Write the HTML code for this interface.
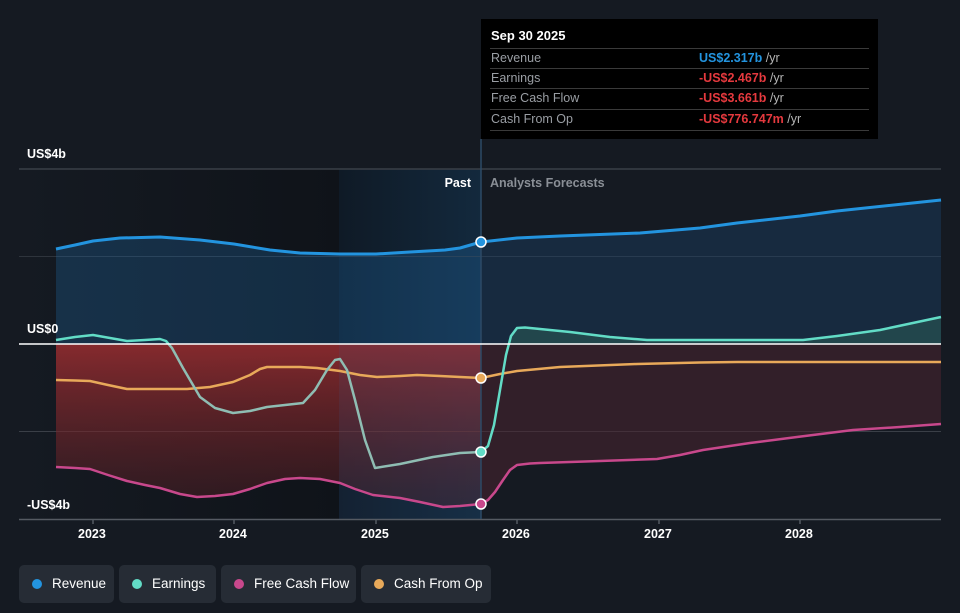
<!DOCTYPE html>
<html><head><meta charset="utf-8"><style>
html,body{margin:0;padding:0;background:#151a22;}
body{width:960px;height:613px;overflow:hidden;position:relative;font-family:"Liberation Sans",sans-serif;}
.tt{position:absolute;left:481px;top:19px;width:397px;height:120px;background:#000;}
.tt .h{position:absolute;left:10px;top:9px;color:#fff;font-weight:bold;font-size:13px;}
.tt .r{position:absolute;left:9px;width:379px;height:20px;border-top:1px solid #3a3a3a;font-size:12.5px;color:#9a9ea4;line-height:19px;}
.tt .r span.l{position:absolute;left:1px;}
.tt .r span.v{position:absolute;left:209px;font-weight:bold;}
.tt .r span.v i{font-style:normal;font-weight:normal;color:#b5b5b5;}
.blue{color:#2394df;} .red{color:#e5393e;}
.lg{position:absolute;top:565px;height:38px;background:#262c35;border-radius:5px;color:#fff;font-size:13.5px;font-weight:normal;line-height:38px;}
.lg b{position:absolute;left:13px;top:14px;width:10px;height:10px;border-radius:50%;}
.lg span{position:absolute;left:33px;}
.ax{position:absolute;color:#fff;font-size:12.5px;font-weight:bold;}
</style></head><body>
<svg width="960" height="613" style="position:absolute;left:0;top:0">
<defs>
<linearGradient id="dk" x1="0" x2="1" y1="0" y2="0"><stop offset="0" stop-color="#151a22"/><stop offset="1" stop-color="#0f1319"/></linearGradient>
<linearGradient id="hl" x1="0" x2="1" y1="0" y2="0"><stop offset="0" stop-color="#0f1a26"/><stop offset="1" stop-color="#13293d"/></linearGradient>
<linearGradient id="rd" x1="0" x2="0" y1="344" y2="510" gradientUnits="userSpaceOnUse"><stop offset="0" stop-color="#9a2d30" stop-opacity="0.85"/><stop offset="1" stop-color="#5a2026" stop-opacity="0.35"/></linearGradient>
<clipPath id="past"><rect x="0" y="0" width="481" height="613"/></clipPath>
<clipPath id="fut"><rect x="481" y="0" width="479" height="613"/></clipPath>
<clipPath id="pastBelow"><rect x="0" y="345" width="481" height="268"/></clipPath>
<clipPath id="notPastBelow"><path d="M0,0 H960 V613 H481 V345 H0 Z"/></clipPath>
</defs>
<rect x="19" y="169" width="320" height="350" fill="url(#dk)"/>
<rect x="339" y="169" width="142" height="350" fill="url(#hl)"/>
<line x1="19" y1="169" x2="941" y2="169" stroke="#3a3f47" stroke-width="1.5"/>
<line x1="19" y1="256.5" x2="941" y2="256.5" stroke="#2e343c" stroke-width="1"/>
<line x1="19" y1="431.5" x2="941" y2="431.5" stroke="#3a3f47" stroke-width="1"/>
<path d="M56,344 L56,249 L75,245 L93,241 L120,238 L160,237 L200,240 L234,244 L270,250 L300,253 L340,254 L376,254 L410,252 L445,250 L460,248 L481,242 L517,238 L560,236 L640,233 L700,228 L737,223 L800,216 L837,211 L941,200 L941,344 Z" fill="#1f6fb0" fill-opacity="0.28" clip-path="url(#past)"/>
<path d="M56,344 L56,249 L75,245 L93,241 L120,238 L160,237 L200,240 L234,244 L270,250 L300,253 L340,254 L376,254 L410,252 L445,250 L460,248 L481,242 L517,238 L560,236 L640,233 L700,228 L737,223 L800,216 L837,211 L941,200 L941,344 Z" fill="#1e4a75" fill-opacity="0.35" clip-path="url(#fut)"/>
<path d="M508,344 L511,336 L517,328 L525,327.5 L540,329 L570,332 L610,337 L647,340 L700,340 L803,340 L837,336 L880,330 L941,317 L941,344 Z" fill="#2a5a55" fill-opacity="0.6"/>
<path d="M56,344 L56,467 L75,468 L90,469 L108,475 L127,481 L145,485 L160,488 L180,494 L197,497 L215,496 L233,494 L250,489 L267,483 L285,479 L300,478 L320,479 L340,483 L355,489 L373,495 L400,498 L420,502 L443,507 L460,506 L481,504 L481,344 Z" fill="url(#rd)"/>
<path d="M481,344 L481,504 L488,500 L495,492 L503,480 L510,470 L517,465 L530,463.5 L540,463 L600,461 L657,459 L680,455 L703,450 L750,443 L797,437 L853,430 L900,427 L941,424 L941,344 Z" fill="#4a2430" fill-opacity="0.55"/>
<rect x="339" y="344" width="142" height="175" fill="#3a5a8a" fill-opacity="0.12"/>
<line x1="19" y1="519.5" x2="941" y2="519.5" stroke="#555a62" stroke-width="1.5"/>
<g stroke="#555a62" stroke-width="1.5"><line x1="93" y1="519" x2="93" y2="524"/><line x1="234" y1="519" x2="234" y2="524"/><line x1="376" y1="519" x2="376" y2="524"/><line x1="517" y1="519" x2="517" y2="524"/><line x1="659" y1="519" x2="659" y2="524"/><line x1="800" y1="519" x2="800" y2="524"/></g>
<line x1="481" y1="139" x2="481" y2="519" stroke="#2d4a66" stroke-width="1.5"/>
<path d="M56,380 L75,380.5 L90,381 L108,385 L127,389 L160,389 L187,389 L210,387 L233,382 L250,375 L260,369 L267,367 L300,367 L317,368 L340,371 L360,375 L377,377 L400,376 L417,375 L440,376 L460,377 L481,378 L500,374 L517,371 L560,367 L637,364 L700,362.5 L737,362 L941,362" fill="none" stroke="#e8a95a" stroke-width="2.5" stroke-linejoin="round"/>
<path d="M56,467 L75,468 L90,469 L108,475 L127,481 L145,485 L160,488 L180,494 L197,497 L215,496 L233,494 L250,489 L267,483 L285,479 L300,478 L320,479 L340,483 L355,489 L373,495 L400,498 L420,502 L443,507 L460,506 L481,504 L488,500 L495,492 L503,480 L510,470 L517,465 L530,463.5 L540,463 L600,461 L657,459 L680,455 L703,450 L750,443 L797,437 L853,430 L900,427 L941,424" fill="none" stroke="#c8488c" stroke-width="2.5" stroke-linejoin="round"/>
<g fill="none" stroke-width="2.5" stroke-linejoin="round">
<path d="M56,340 L75,337 L93,335 L110,338 L127,341 L145,340 L160,339 L166,341 L172,348 L183,368 L200,397 L215,408 L233,413 L250,411 L267,407 L285,405 L303,403 L315,390 L327,370 L335,360 L340,359 L347,370 L355,400 L365,440 L375,468 L400,464 L433,457 L460,453 L481,452 L488,446 L494,425 L500,390 L506,355 L511,336 L517,328 L525,327.5 L540,329 L570,332 L610,337 L647,340 L700,340 L803,340 L837,336 L880,330 L941,317" stroke="#62dcc6" clip-path="url(#notPastBelow)"/>
<path d="M56,340 L75,337 L93,335 L110,338 L127,341 L145,340 L160,339 L166,341 L172,348 L183,368 L200,397 L215,408 L233,413 L250,411 L267,407 L285,405 L303,403 L315,390 L327,370 L335,360 L340,359 L347,370 L355,400 L365,440 L375,468 L400,464 L433,457 L460,453 L481,452" stroke="#8fbdb3" clip-path="url(#pastBelow)"/>
</g>
<path d="M56,249 L75,245 L93,241 L120,238 L160,237 L200,240 L234,244 L270,250 L300,253 L340,254 L376,254 L410,252 L445,250 L460,248 L481,242 L517,238 L560,236 L640,233 L700,228 L737,223 L800,216 L837,211 L941,200" fill="none" stroke="#2394df" stroke-width="3" stroke-linejoin="round"/>
<line x1="19" y1="344" x2="941" y2="344" stroke="#ffffff" stroke-width="1.5"/>
<g stroke="#fff" stroke-width="1.5">
<circle cx="481" cy="242" r="5" fill="#2394df"/>
<circle cx="481" cy="378" r="5" fill="#e8a95a"/>
<circle cx="481" cy="452" r="5" fill="#62dcc6"/>
<circle cx="481" cy="504" r="5" fill="#c8488c"/>
</g>
<text x="471" y="187" fill="#fff" font-size="12.5" font-weight="bold" text-anchor="end" font-family="Liberation Sans, sans-serif">Past</text>
<text x="490" y="187" fill="#8a8f96" font-size="12.5" font-weight="bold" font-family="Liberation Sans, sans-serif">Analysts Forecasts</text>
</svg>
<div class="ax" style="left:27px;top:147px;">US$4b</div>
<div class="ax" style="left:27px;top:322px;">US$0</div>
<div class="ax" style="left:27px;top:498px;">-US$4b</div>
<div class="ax" style="left:78px;top:527px;">2023</div>
<div class="ax" style="left:219px;top:527px;">2024</div>
<div class="ax" style="left:361px;top:527px;">2025</div>
<div class="ax" style="left:502px;top:527px;">2026</div>
<div class="ax" style="left:644px;top:527px;">2027</div>
<div class="ax" style="left:785px;top:527px;">2028</div>
<div class="tt">
<div class="h">Sep 30 2025</div>
<div class="r" style="top:29px"><span class="l">Revenue</span><span class="v blue">US$2.317b <i>/yr</i></span></div>
<div class="r" style="top:49px"><span class="l">Earnings</span><span class="v red">-US$2.467b <i>/yr</i></span></div>
<div class="r" style="top:69px"><span class="l">Free Cash Flow</span><span class="v red">-US$3.661b <i>/yr</i></span></div>
<div class="r" style="top:90px;border-bottom:1px solid #3a3a3a;"><span class="l">Cash From Op</span><span class="v red">-US$776.747m <i>/yr</i></span></div>
</div>
<div class="lg" style="left:19px;width:95px;"><b style="background:#2394df"></b><span>Revenue</span></div>
<div class="lg" style="left:119px;width:97px;"><b style="background:#62dcc6"></b><span>Earnings</span></div>
<div class="lg" style="left:221px;width:135px;"><b style="background:#c8488c"></b><span>Free Cash Flow</span></div>
<div class="lg" style="left:361px;width:130px;"><b style="background:#e8a95a"></b><span>Cash From Op</span></div>
</body></html>
